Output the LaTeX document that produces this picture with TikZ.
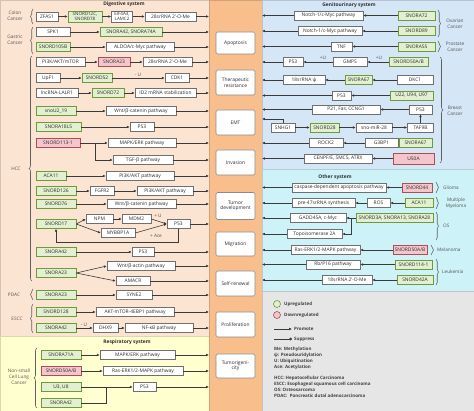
\documentclass[tikz,border=0pt]{standalone}
\usepackage{fontspec}
\setmainfont{Open Sans}
\usetikzlibrary{arrows.meta,decorations.pathreplacing,calc}
\definecolor{digc}{HTML}{FCE4D3}
\definecolor{respc}{HTML}{FFFFCF}
\definecolor{centc}{HTML}{F8BE8C}
\definecolor{genc}{HTML}{D5E6F7}
\definecolor{othc}{HTML}{CDF3F8}
\definecolor{legc}{HTML}{E6E6E6}
\definecolor{gfill}{HTML}{E2EFD0}
\definecolor{gdraw}{HTML}{6E9A3C}
\definecolor{pfill}{HTML}{F4C6CC}
\definecolor{pdraw}{HTML}{A8505A}
\definecolor{wdraw}{HTML}{707070}
\definecolor{cdraw}{HTML}{8A8A8A}
\definecolor{linec}{HTML}{3A3A3A}
\definecolor{txtc}{HTML}{2E2E2E}
\definecolor{labc}{HTML}{555555}
\definecolor{bracec}{HTML}{606060}
\definecolor{legt}{HTML}{404040}
\newcommand\fsz{\fontsize{4.9}{5.4}\selectfont}
\newcommand\fsx{\fontsize{4.5}{4.8}\selectfont}
\newcommand\fsl{\fontsize{4.5}{6}\selectfont}
\newcommand\fsb{\fontsize{4.7}{6}\selectfont}
\begin{document}
\begin{tikzpicture}[x=1pt,y=-1pt,
  box/.style={draw, line width=0.5pt, inner sep=0pt, minimum height=9pt, font=\fsz, text=txtc, align=center},
  wb/.style={box, fill=white, draw=wdraw},
  gb/.style={box, fill=gfill, draw=gdraw},
  pb/.style={box, fill=pfill, draw=pdraw},
  cb/.style={draw=cdraw, fill=white, rounded corners=1.5pt, line width=0.6pt, minimum width=39pt, inner sep=0pt, font=\fsz, text=txtc, align=center},
  arr/.style={draw=linec, line width=0.6pt, -{Latex[length=2.8pt,width=2.6pt]}},
  sup/.style={draw=linec, line width=0.6pt, -{Circle[length=2.8pt]}},
  ln/.style={draw=linec, line width=0.6pt},
  brc/.style={draw=bracec, line width=0.55pt, decorate, decoration={brace,amplitude=#1}},
  brc/.default=2.5pt,
  lab/.style={font=\fsb, text=labc, align=center, inner sep=0pt},
  ttl/.style={font=\fsz\bfseries, text=txtc, inner sep=0pt},
  leg/.style={font=\fsl\bfseries, text=legt, anchor=west, inner sep=0pt}]
\useasboundingbox (0,0) rectangle (474,411);
% panels
\filldraw[fill=digc, draw=digc!85!black, line width=0.4pt] (0,0) rectangle (209,336);
\filldraw[fill=respc, draw=respc!85!black, line width=0.4pt] (0,336) rectangle (209,411);
\filldraw[fill=centc, draw=centc!85!black, line width=0.4pt] (209,0) rectangle (262,411);
\filldraw[fill=genc, draw=genc!85!black, line width=0.4pt] (262,0) rectangle (474,169);
\filldraw[fill=othc, draw=othc!85!black, line width=0.4pt] (262,169) rectangle (474,291);
\filldraw[fill=legc, draw=legc!85!black, line width=0.4pt] (262,291) rectangle (474,411);
\coordinate (colL) at (209,0);
\coordinate (colR) at (262,0);
% titles
\node[ttl] (tdig) at (124,4.5) {Digestive system};
\node[ttl] (tgu) at (349,5) {Genitourinary system};
\node[ttl] (toth) at (335,177) {Other system};
\node[ttl] (tresp) at (127,342) {Respiratory system};
% center boxes
\node[cb,minimum height=22pt] (apop) at (235.5,43) {Apoptosis};
\node[cb,minimum height=25pt] (ther) at (235.5,82.5) {Therapeutic\\resistance};
\node[cb,minimum height=25pt] (emt) at (235.5,122.5) {EMT};
\node[cb,minimum height=25pt] (inv) at (235.5,162.5) {Invasion};
\node[cb,minimum height=27pt] (tdev) at (235.5,206) {Tumor\\development};
\node[cb,minimum height=24pt] (migr) at (235.5,244) {Migration};
\node[cb,minimum height=25pt] (selfr) at (235.5,283.5) {Self-renewal};
\node[cb,minimum height=25pt] (prol) at (235.5,324.5) {Proliferation};
\node[cb,minimum height=24pt] (tgeni) at (235.5,366) {Tumorigeni-\\city};
% left labels and braces
\node[lab] (lcolon) at (15,16) {Colon\\Cancer};
\node[lab] (lgas) at (15,40) {Gastric\\Cancer};
\node[lab] (lhcc) at (16,169) {HCC};
\node[lab] (lpdac) at (14,294.5) {PDAC};
\node[lab] (lescc) at (17,319) {ESCC};
\node[lab] (lnsc) at (19,377) {Non-small\\Cell Lung\\Cancer};
\draw[brc] (33,24) -- (33,9);
\draw[brc] (33,54) -- (33,27);
\draw[brc=3pt] (32,281) -- (32,56);
\draw[brc] (33,300) -- (33,289);
\draw[brc] (33,333) -- (33,304);
\draw[brc=3pt] (37,408) -- (37,348);
% right labels and braces
\node[lab] (lova) at (455,23.5) {Ovarian\\Cancer};
\node[lab] (lpro) at (455,47) {Prostate\\Cancer};
\node[lab] (lbre) at (455,111) {Breast\\Cancer};
\node[lab,anchor=west] (lgli) at (443,187.5) {Glioma};
\node[lab] (lmm) at (456,203) {Multiple\\Myeloma};
\node[lab,anchor=west] (los) at (443,226) {OS};
\node[lab,anchor=west] (lmel) at (437,250) {Melanoma};
\node[lab,anchor=west] (lleu) at (442,272) {Leukemia};
\draw[brc] (438,10) -- (438,37);
\draw[brc] (438,41) -- (438,52);
\draw[brc=3pt] (440,57) -- (440,163);
\draw[brc] (436,182) -- (436,193);
\draw[brc] (436,197) -- (436,209);
\draw[brc] (436,212) -- (436,240);
\draw[brc] (431,245) -- (431,255);
\draw[brc] (436,259) -- (436,285);
% ---------- left nodes
\node[wb,minimum width=22pt] (zfas) at (47,16.5) {ZFAS1};
\node[gb,minimum width=34pt,minimum height=11pt,font=\fsx] (snord12c) at (85,16.5) {SNORD12C,\\SNORD78};
\node[wb,minimum width=21pt,minimum height=11pt,font=\fsx] (eif4a3) at (122,16.5) {EIF4A3,\\LAMC2};
\node[wb,minimum width=51pt] (s28a) at (170.5,16.5) {28srRNA 2'-O-Me};
\node[wb,minimum width=34pt] (spk1) at (53,32) {SPK1};
\node[gb,minimum width=62pt] (snora42a) at (131,32) {SNORA42, SNORA74A};
\node[gb,minimum width=34pt] (snord105b) at (53,47) {SNORD105B};
\node[wb,minimum width=68pt] (aldoa) at (140,47) {ALDOA/c-Myc pathway};
\node[wb,minimum width=49pt] (pi3ka) at (60.5,62) {PI3K/AKT/mTOR};
\node[pb,minimum width=32pt] (snora23a) at (114,62) {SNORA23};
\node[wb,minimum width=49pt] (s28b) at (167.5,62) {28srRNA 2'-O-Me};
\node[wb,minimum width=24pt] (upf1) at (48,78) {UpF1};
\node[gb,minimum width=30pt] (snord52) at (97,78) {SNORD52};
\node[wb,minimum width=24pt] (cdk1) at (177,78) {CDK1};
\node[lab] (lu1) at (138,74.5) {- U};
\node[wb,minimum width=42pt] (lalr1) at (57,93) {lncRNA-LALR1};
\node[gb,minimum width=32pt] (snord72) at (108,93) {SNORD72};
\node[wb,minimum width=61pt] (id2) at (165.5,93) {ID2 mRNA stabilization};
\node[gb,minimum width=40pt] (snou2) at (56,111) {snoU2\_19};
\node[wb,minimum width=70pt] (wnta) at (141,111) {Wnt/β-catenin pathway};
\node[gb,minimum width=45pt] (snora18) at (58.5,127) {SNORA18L5};
\node[wb,minimum width=24pt] (p53a) at (142,127) {P53};
\node[pb,minimum width=44pt] (snord113) at (58,143) {SNORD113-1};
\node[wb,minimum width=68pt] (mapka) at (142,143) {MAPK/ERK pathway};
\node[wb,minimum width=60pt] (tgfb) at (143,160) {TGF-β pathway};
\coordinate (br113) at (95,143);
\node[gb,minimum width=30pt] (aca11a) at (51,176) {ACA11};
\node[wb,minimum width=68pt] (pi3kb) at (140,176) {PI3K/AKT pathway};
\node[gb,minimum width=40pt] (snord126) at (56,191) {SNORD126};
\node[wb,minimum width=24pt] (fgfr2) at (102,191) {FGFR2};
\node[wb,minimum width=56pt] (pi3kc) at (165,191) {PI3K/AKT pathway};
\node[gb,minimum width=40pt] (snord76) at (56,204) {SNORD76};
\node[wb,minimum width=69pt] (wntb) at (141.5,204) {Wnt/β-catenin pathway};
\node[gb,minimum width=40pt] (snord17) at (56,224) {SNORD17};
\node[wb,minimum width=27pt] (npm) at (99.5,219) {NPM};
\node[wb,minimum width=29pt] (mdm2) at (136.5,219) {MDM2};
\node[wb,minimum width=34pt] (mybbp) at (118,233) {MYBBP1A};
\node[wb,minimum width=23pt] (p53b) at (178.5,224) {P53};
\node[lab] (lu2) at (158,216) {+ U};
\node[lab] (lace) at (156,235.5) {+ Ace};
\coordinate (lpB) at (56,242);
\node[gb,minimum width=40pt] (snora42b) at (56,252) {SNORA42};
\node[wb,minimum width=22pt] (p53c) at (143,252) {P53};
\node[gb,minimum width=40pt] (snora23b) at (56,273) {SNORA23};
\node[wb,minimum width=68pt] (wntact) at (141,266) {Wnt/β-actin pathway};
\node[wb,minimum width=34pt] (amacr) at (133,281) {AMACR};
\node[gb,minimum width=40pt] (snora23c) at (56,295) {SNORA23};
\node[wb,minimum width=36pt] (syne2) at (134,295) {SYNE2};
\node[gb,minimum width=40pt] (snord128) at (56,312) {SNORD128};
\node[wb,minimum width=78pt] (akt) at (135,312) {AKT-mTOR-4EBP1 pathway};
\node[gb,minimum width=40pt] (snora42c) at (56,328) {SNORA42};
\node[wb,minimum width=25pt] (dhx9) at (105.5,328) {DHX9};
\node[lab] (lu3) at (84,324.5) {- U};
\node[wb,minimum width=68pt] (nfkb) at (159,328) {NF-κB pathway};
\node[gb,minimum width=40pt] (snora71a) at (61,355) {SNORA71A};
\node[wb,minimum width=75pt] (mapkb) at (137.5,355) {MAPK/ERK pathway};
\node[pb,minimum width=40pt] (snord50a) at (61,371) {SNORD50A/B};
\node[wb,minimum width=80pt] (rasa) at (143,371) {Ras-ERK1/2-MAPK pathway};
\node[gb,minimum width=40pt] (u3u8) at (61,387) {U3, U8};
\node[gb,minimum width=40pt] (snora42d) at (61,403) {SNORA42};
\node[wb,minimum width=23pt] (p53d) at (144.5,387) {P53};
\coordinate (jn) at (106,387);
% ---------- right nodes
\node[wb,minimum width=69pt] (notch1) at (328.5,15.5) {Notch-1/c-Myc pathway};
\node[gb,minimum width=37pt] (snora72) at (416.5,15.5) {SNORA72};
\node[wb,minimum width=64pt] (notch2) at (330,31) {Notch-1/c-Myc pathway};
\node[gb,minimum width=37pt] (snord89) at (416.5,31) {SNORD89};
\node[wb,minimum width=21pt] (tnf) at (341.5,46.5) {TNF};
\node[gb,minimum width=37pt] (snora55) at (416.5,46.5) {SNORA55};
\node[wb,minimum width=20pt] (p53e) at (293,62) {P53};
\node[wb,minimum width=34pt] (gmps) at (350,62) {GMPS};
\node[gb,minimum width=39pt] (snord50b) at (408.5,62) {SNORD50A/B};
\node[lab] (lu4) at (323,58) {+U};
\node[lab] (lu5) at (379,58) {+U};
\node[wb,minimum width=42pt] (s18psi) at (304,80) {18srRNA ψ};
\node[gb,minimum width=27pt] (snora67a) at (358.5,80) {SNORA67};
\node[wb,minimum width=36pt] (dkc1) at (415,80) {DKC1};
\node[wb,minimum width=19pt] (p53f) at (341.5,95.5) {P53};
\node[gb,minimum width=43pt] (u22) at (411.5,95.5) {U22, U94, U97};
\node[wb,minimum width=68pt] (p21) at (346,109.5) {P21, Fas, CCNG1};
\node[wb,minimum width=23pt] (p53g) at (420.5,109.5) {P53};
\node[wb,minimum width=24pt] (snhg1) at (283,127.5) {SNHG1};
\node[gb,minimum width=29pt] (snord28) at (324.5,127.5) {SNORD28};
\node[wb,minimum width=36pt] (snomir) at (374,127.5) {sno-miR-28};
\node[wb,minimum width=26pt] (taf9b) at (420.5,127.5) {TAF9B};
\coordinate (snhgup) at (283,119);
\node[wb,minimum width=34pt] (rock2) at (326,143) {ROCK2};
\node[wb,minimum width=33pt] (g3bp1) at (381.5,143) {G3BP1};
\node[gb,minimum width=33pt] (snora67b) at (415.5,143) {SNORA67};
\node[wb,minimum width=68pt] (cenpf) at (338,158.5) {CENPF/E, SMC5, ATRX};
\node[pb,minimum width=41pt,minimum height=11pt] (u50a) at (413.5,158.5) {U50A};
\node[wb,minimum width=94pt] (casp) at (339,187.5) {caspase-dependent apoptosis pathway};
\node[pb,minimum width=30pt] (snord44) at (417,187.5) {SNORD44};
\node[wb,minimum width=63pt] (pre47) at (323.5,203) {pre-47srRNA synthesis};
\node[wb,minimum width=23pt] (ros) at (378.5,203) {ROS};
\node[gb,minimum width=28pt] (aca11b) at (419,203) {ACA11};
\node[wb,minimum width=56pt] (gadd) at (318,218) {GADD45A, c-Myc};
\node[wb,minimum width=55pt] (topo) at (314.5,234) {Topoisomerase 2A};
\node[gb,minimum width=77pt] (snord3a) at (394.5,218) {SNORD3A, SNORA13, SNORA28};
\coordinate (jo) at (351,218);
\node[wb,minimum width=69pt] (rasb) at (325.5,250) {Ras-ERK1/2-MAPK pathway};
\node[pb,minimum width=34pt] (snord50c) at (410,250) {SNORD50A/B};
\node[wb,minimum width=54pt] (rb) at (333,264.5) {Rb/P16 pathway};
\node[gb,minimum width=37pt] (snord114) at (413.5,264.5) {SNORD114-1};
\node[wb,minimum width=50pt] (s18me) at (347,280) {18srRNA 2'-O-Me};
\node[gb,minimum width=36pt] (snord42a) at (415,280) {SNORD42A};
% ---------- left connectors
\draw[arr] (zfas) -- (snord12c);
\draw[arr] (snord12c) -- (eif4a3);
\draw[arr] (eif4a3) -- (s28a);
\draw[arr] (s28a) -- (s28a -| colL);
\draw[arr] (spk1) -- (snora42a);
\draw[arr] (snora42a) -- (snora42a -| colL);
\draw[arr] (snord105b) -- (aldoa);
\draw[arr] (aldoa) -- (aldoa -| colL);
\draw[arr] (pi3ka) -- (snora23a);
\draw[arr] (snora23a) -- (s28b);
\draw[arr] (s28b) -- (s28b -| colL);
\draw[arr] (upf1) -- (snord52);
\draw[arr] (snord52) -- (cdk1);
\draw[arr] (cdk1) -- (cdk1 -| colL);
\draw[arr] (lalr1) -- (snord72);
\draw[arr] (snord72) -- (id2);
\draw[arr] (id2) -- (id2 -| colL);
\draw[arr] (snou2) -- (wnta);
\draw[arr] (wnta) -- (wnta -| colL);
\draw[arr] (snora18) -- (p53a);
\draw[arr] (p53a) -- (p53a -| colL);
\draw[arr] (snord113) -- (mapka);
\draw[arr] (br113) |- (tgfb);
\draw[arr] (mapka) -- (mapka -| colL);
\draw[arr] (tgfb) -- (tgfb -| colL);
\draw[arr] (aca11a) -- (pi3kb);
\draw[arr] (pi3kb) -- (pi3kb -| colL);
\draw[arr] (snord126) -- (fgfr2);
\draw[arr] (fgfr2) -- (pi3kc);
\draw[arr] (pi3kc) -- (pi3kc -| colL);
\draw[arr] (snord76) -- (wntb);
\draw[arr] (wntb) -- (wntb -| colL);
\draw[arr] (snord17.east) -- (npm.west);
\draw[arr] (snord17.east) -- (mybbp.west);
\draw[arr] (npm) -- (mdm2);
\draw[arr] (mdm2.east) -- (p53b.west);
\draw[arr] (mybbp.east) -- (p53b.west);
\draw[arr] (p53b) -- (p53b -| colL);
\draw[arr] (p53b.south) |- (lpB) -- (snord17.south);
\draw[arr] (snora42b) -- (p53c);
\draw[arr] (p53c) -- (p53c -| colL);
\draw[arr] (snora23b.east) -- (wntact.west);
\draw[arr] (snora23b.east) -- (amacr.west);
\draw[arr] (wntact) -- (wntact -| colL);
\draw[arr] (amacr) -- (amacr -| colL);
\draw[arr] (snora23c) -- (syne2);
\draw[arr] (syne2) -- (syne2 -| colL);
\draw[arr] (snord128) -- (akt);
\draw[arr] (akt) -- (akt -| colL);
\draw[arr] (snora42c) -- (dhx9);
\draw[arr] (dhx9) -- (nfkb);
\draw[arr] (nfkb) -- (nfkb -| colL);
\draw[arr] (snora71a) -- (mapkb);
\draw[arr] (mapkb) -- (mapkb -| colL);
\draw[arr] (snord50a) -- (rasa);
\draw[arr] (rasa) -- (rasa -| colL);
\draw[arr] (u3u8) -- (p53d);
\draw[ln] (snora42d) -| (jn);
\draw[arr] (p53d) -- (p53d -| colL);
% ---------- right connectors
\draw[arr] (snora72) -- (notch1);
\draw[arr] (notch1) -- (notch1 -| colR);
\draw[arr] (snord89) -- (notch2);
\draw[arr] (notch2) -- (notch2 -| colR);
\draw[arr] (snora55) -- (tnf);
\draw[arr] (tnf) -- (tnf -| colR);
\draw[arr] (snord50b) -- (gmps);
\draw[arr] (gmps) -- (p53e);
\draw[arr] (p53e) -- (p53e -| colR);
\draw[arr] (dkc1) -- (snora67a);
\draw[arr] (snora67a) -- (s18psi);
\draw[arr] (s18psi) -- (s18psi -| colR);
\draw[arr] (u22) -- (p53f);
\draw[arr] (p53f) -- (p53f -| colR);
\draw[arr] (p53g) -- (p21);
\draw[arr] (p21) -- (p21 -| colR);
\draw[arr] (taf9b) -- (p53g);
\draw[arr] (snhg1) -- (snord28);
\draw[arr] (snord28) -- (snomir);
\draw[arr] (snomir) -- (taf9b);
\draw[arr] (snhg1.north) -- (snhgup) -- (snhgup -| colR);
\draw[arr] (g3bp1) -- (rock2);
\draw[arr] (rock2) -- (rock2 -| colR);
\draw[arr] (u50a) -- (cenpf);
\draw[arr] (cenpf) -- (cenpf -| colR);
\draw[arr] (snord44) -- (casp);
\draw[arr] (casp) -- (casp -| colR);
\draw[arr] (aca11b) -- (ros);
\draw[arr] (ros) -- (pre47);
\draw[arr] (pre47) -- (pre47 -| colR);
\draw[arr] (snord3a) -- (gadd);
\draw[arr] (jo) |- (topo);
\draw[arr] (gadd) -- (gadd -| colR);
\draw[arr] (topo) -- (topo -| colR);
\draw[arr] (snord50c) -- (rasb);
\draw[arr] (rasb) -- (rasb -| colR);
\draw[arr] (snord114) -- (rb);
\draw[arr] (rb) -- (rb -| colR);
\draw[arr] (snord42a) -- (s18me);
\draw[arr] (s18me) -- (s18me -| colR);
% ---------- legend
\node[circle, fill=gfill, draw=gdraw, line width=0.6pt, minimum size=7pt, inner sep=0pt] (cup) at (277,304) {};
\node[circle, fill=pfill, draw=pdraw, line width=0.6pt, minimum size=7pt, inner sep=0pt] (cdown) at (277,315) {};
\node[leg] (tup) at (284,304) {Upregulated};
\node[leg] (tdown) at (284,315) {Downregulated};
\coordinate (legpa) at (274,329);
\coordinate (legpb) at (292,329);
\coordinate (legsa) at (274,339);
\coordinate (legsb) at (292,339);
\draw[arr] (legpa) -- (legpb);
\draw[sup] (legsa) -- (legsb);
\node[leg] (tprom) at (294,329) {Promote};
\node[leg] (tsup) at (294,339) {Suppress};
\node[leg] (ab1) at (274,349) {Me: Methylation};
\node[leg] (ab2) at (274,355) {ψ: Pseudouridylation};
\node[leg] (ab3) at (274,361) {U: Ubiquitination};
\node[leg] (ab4) at (274,367) {Ace: Acetylation};
\node[leg] (ab5) at (274,378) {HCC: Hepatocellular Carcinoma};
\node[leg] (ab6) at (274,384) {ESCC: Esophageal squamous cell carcinoma};
\node[leg] (ab7) at (274,390) {OS: Osteosarcoma};
\node[leg] (ab8) at (274,396) {PDAC:\ \ Pancreatic dutal adenocarcinoma};
\end{tikzpicture}
\end{document}
